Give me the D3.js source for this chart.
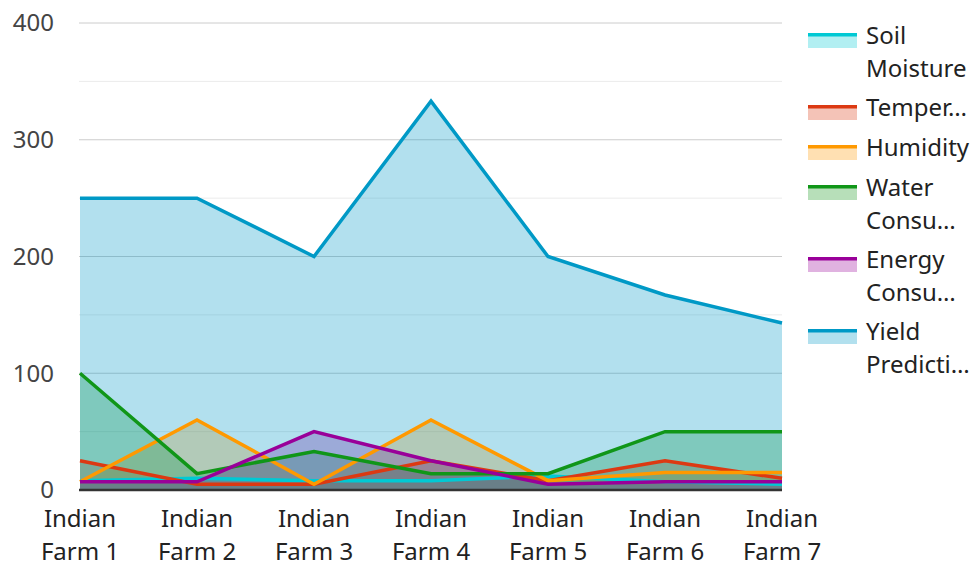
<!DOCTYPE html>
<html>
<head>
<meta charset="utf-8">
<script src="https://cdn.jsdelivr.net/npm/d3@7"></script>
<style>
  body { margin: 0; background: #fff; }
  svg { display: block; font-family: "Noto Sans", sans-serif; }
</style>
</head>
<body>
<svg width="976" height="562"></svg>
<script>
const width = 976,
  height = 562;
const svg = d3.select('svg');

// Farms along the x axis
const farms = ['Indian Farm 1', 'Indian Farm 2', 'Indian Farm 3', 'Indian Farm 4', 'Indian Farm 5', 'Indian Farm 6', 'Indian Farm 7'];

// Series values
const soilMoisture = [8, 10, 8, 8, 12, 7, 5];
const temperature = [25, 5, 5, 25, 8, 25, 10];
const humidity = [7, 60, 5, 60, 8, 15, 15];
const waterConsumption = [100, 14, 33, 14, 14, 50, 50];
const energyConsumption = [7, 7, 50, 25, 5, 7, 7];
const yieldPrediction = [250, 250, 200, 333, 200, 167, 143];

const seriesNames = ['Soil Moisture', 'Temperature', 'Humidity', 'Water Consumption', 'Energy Consumption', 'Yield Prediction'];
const legendLines = [['Soil', 'Moisture'], ['Temper…'], ['Humidity'], ['Water', 'Consu…'], ['Energy', 'Consu…'], ['Yield', 'Predicti…']];
const colors = ['#00c9d4', '#dc3912', '#ff9900', '#109618', '#990099', '#0099c6'];
const yTicks = [0, 100, 200, 300, 400];

const series = [soilMoisture, temperature, humidity, waterConsumption, energyConsumption, yieldPrediction]
  .map((values, i) => ({ name: seriesNames[i], values, color: colors[i], legend: legendLines[i] }));

const x = d3.scalePoint().domain(farms).range([80, 782]);
const y = d3.scaleLinear().domain([0, 400]).range([490, 23]);

// Grid lines: minor then major
svg.append('g')
  .selectAll('line')
  .data(d3.range(50, 400, 100))
  .join('line')
  .attr('x1', 79).attr('x2', 782)
  .attr('y1', (d) => y(d)).attr('y2', (d) => y(d))
  .attr('stroke', '#ebebeb')
  .attr('stroke-width', 1);

svg.append('g')
  .selectAll('line')
  .data(yTicks.slice(1))
  .join('line')
  .attr('x1', 79).attr('x2', 782)
  .attr('y1', (d) => y(d)).attr('y2', (d) => y(d))
  .attr('stroke', '#cccccc')
  .attr('stroke-width', 1);

// Y tick labels
svg.append('g')
  .selectAll('text')
  .data(yTicks)
  .join('text')
  .attr('x', 54)
  .attr('y', (d) => y(d))
  .attr('dy', '0.35em')
  .attr('text-anchor', 'end')
  .attr('font-size', 24)
  .attr('fill', '#444')
  .text((d) => d);

const area = d3.area()
  .x((d, i) => x(farms[i]))
  .y0(y(0))
  .y1((d) => y(d));
const line = d3.line()
  .x((d, i) => x(farms[i]))
  .y((d) => y(d));

// Areas first, then lines over them
svg.append('g')
  .selectAll('path')
  .data(series)
  .join('path')
  .attr('d', (d) => area(d.values))
  .attr('fill', (d) => d.color)
  .attr('fill-opacity', 0.3);

svg.append('g')
  .selectAll('path')
  .data(series)
  .join('path')
  .attr('d', (d) => line(d.values))
  .attr('fill', 'none')
  .attr('stroke', (d) => d.color)
  .attr('stroke-width', 3.5)
  .attr('stroke-linejoin', 'miter');

// Baseline
svg.append('line')
  .attr('x1', 79).attr('x2', 782)
  .attr('y1', y(0)).attr('y2', y(0))
  .attr('stroke', '#333')
  .attr('stroke-width', 2.5);

// X labels, two lines each
const xl = svg.append('g')
  .selectAll('text')
  .data(farms)
  .join('text')
  .attr('text-anchor', 'middle')
  .attr('font-size', 24)
  .attr('fill', '#222');
xl.append('tspan')
  .attr('x', (d) => x(d))
  .attr('y', 527)
  .text((d) => d.split(' ')[0]);
xl.append('tspan')
  .attr('x', (d) => x(d))
  .attr('y', 560)
  .text((d) => d.split(' ').slice(1).join(' '));

// Legend
const itemTops = [];
let legendY = 33;
series.forEach((s) => {
  itemTops.push(legendY);
  legendY += s.legend.length === 1 ? 40 : 72;
});

const legend = svg.append('g')
  .selectAll('g')
  .data(series)
  .join('g')
  .attr('transform', (d, i) => `translate(808,${itemTops[i]})`);

legend.append('rect')
  .attr('x', 0).attr('y', 3)
  .attr('width', 49).attr('height', 12)
  .attr('fill', (d) => d.color)
  .attr('fill-opacity', 0.3);
legend.append('rect')
  .attr('x', 0).attr('y', 0)
  .attr('width', 49).attr('height', 3.5)
  .attr('fill', (d) => d.color);

const lt = legend.append('text')
  .attr('font-size', 24)
  .attr('fill', '#222');
lt.selectAll('tspan')
  .data((d) => d.legend)
  .join('tspan')
  .attr('x', 58)
  .attr('y', (d, i) => 11 + i * 32.5)
  .text((d) => d);
</script>
</body>
</html>
